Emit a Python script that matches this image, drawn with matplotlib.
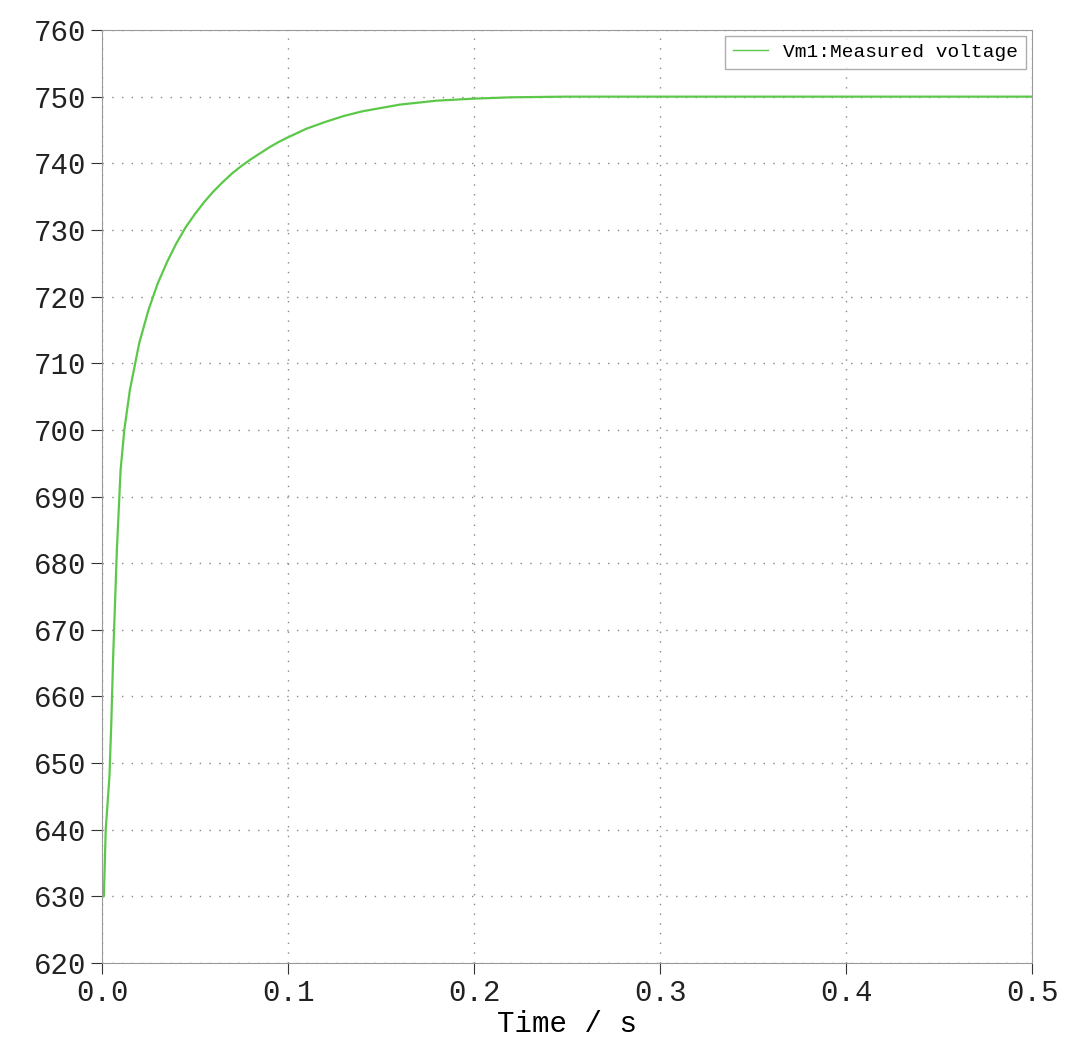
import matplotlib
matplotlib.use('Agg')
import matplotlib.pyplot as plt

# values
time_s = [0.0, 0.001, 0.002, 0.004, 0.005, 0.006, 0.007, 0.008, 0.01, 0.012, 0.015,
          0.02, 0.025, 0.03, 0.035, 0.04, 0.045, 0.05, 0.055, 0.06, 0.065, 0.07,
          0.075, 0.08, 0.085, 0.09, 0.095, 0.1, 0.11, 0.12, 0.13,
          0.14, 0.16, 0.18, 0.2, 0.22, 0.25, 0.3, 0.4, 0.5]
voltage = [630, 630, 640, 648, 656, 666, 674, 682, 694, 700, 706,
           713, 718, 722, 725.2, 728, 730.4, 732.4, 734.2, 735.8, 737.2, 738.5,
           739.6, 740.6, 741.5, 742.4, 743.2, 743.9, 745.2, 746.2, 747.1,
           747.8, 748.8, 749.4, 749.7, 749.9, 750, 750, 750, 750]
x_ticks = [0.0, 0.1, 0.2, 0.3, 0.4, 0.5]
y_ticks = list(range(620, 761, 10))

fig = plt.figure(figsize=(10.78, 10.56), dpi=100)
ax = fig.add_axes([102 / 1078, 1 - 963 / 1056, 930 / 1078, 933 / 1056])
ax.plot(time_s, voltage, color='#5cc84a', linewidth=1.6, label='Vm1:Measured voltage')
ax.set_xlim(0, 0.5)
ax.set_ylim(620, 760)
ax.set_xticks(x_ticks)
ax.set_xticklabels([f'{v:.1f}' for v in x_ticks])
ax.set_yticks(y_ticks)
ax.grid(True, linestyle=(0, (1, 6)), color='#888888', linewidth=1)
for s in ax.spines.values():
    s.set_color('#999999')
ax.tick_params(labelsize=21, length=8, color='#333333', labelcolor='#222222')
for lbl in ax.get_xticklabels() + ax.get_yticklabels():
    lbl.set_family('Liberation Mono')
ax.set_xlabel('Time / s', fontsize=21, family='Liberation Mono', labelpad=2)
leg = ax.legend(loc='upper right', prop={'family': 'Liberation Mono', 'size': 14},
                fancybox=False, edgecolor='#999999', handlelength=1.8,
                borderaxespad=0.3)
leg.get_lines()[0].set_linewidth(1)
fig.savefig('out.png', dpi=100)
